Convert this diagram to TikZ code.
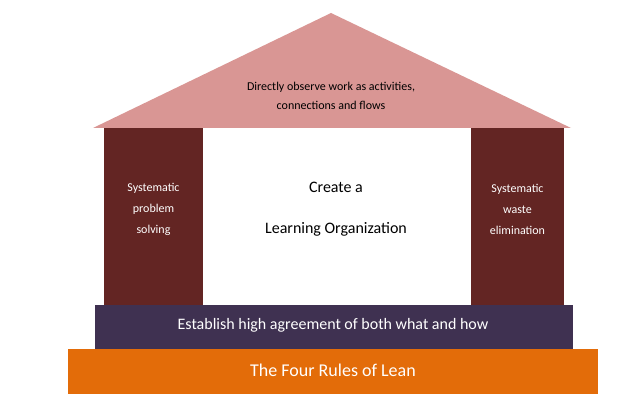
\documentclass[tikz,border=0pt]{standalone}
\usepackage{fontspec}
\setmainfont{Carlito}
\definecolor{roof}{HTML}{D99694}
\definecolor{pillar}{HTML}{632523}
\definecolor{bar}{HTML}{3F3151}
\definecolor{base}{HTML}{E36C09}
\begin{document}
\begin{tikzpicture}[x=1pt,y=-1pt,
  txt/.style={align=center,inner sep=0pt}]
\useasboundingbox (0,0) rectangle (644,419);
\fill[roof] (93,128) -- (331,13) -- (571,128) -- cycle;
\node[txt,font=\fontsize{12}{19}\selectfont] (roofT) at (331,96) {Directly observe work as activities,\\connections and flows};
\fill[pillar] (104,128) rectangle (203,305);
\fill[pillar] (471,128) rectangle (564,305);
\node[txt,white,font=\fontsize{12}{21}\selectfont] (lp) at (153.5,209) {Systematic\\problem\\solving};
\node[txt,white,font=\fontsize{12}{21}\selectfont] (rp) at (517.5,209) {Systematic\\waste\\elimination};
\node[txt,font=\fontsize{16}{41}\selectfont] (c) at (336,209) {Create a\\Learning Organization};
\fill[bar] (95,305) rectangle (573,349);
\node[txt,white,font=\fontsize{16}{19}\selectfont] (b) at (333,325) {Establish high agreement of both what and how};
\fill[base] (68,349) rectangle (598,394);
\node[txt,white,font=\fontsize{18}{21}\selectfont] (o) at (333,370) {The Four Rules of Lean};
\end{tikzpicture}
\end{document}
